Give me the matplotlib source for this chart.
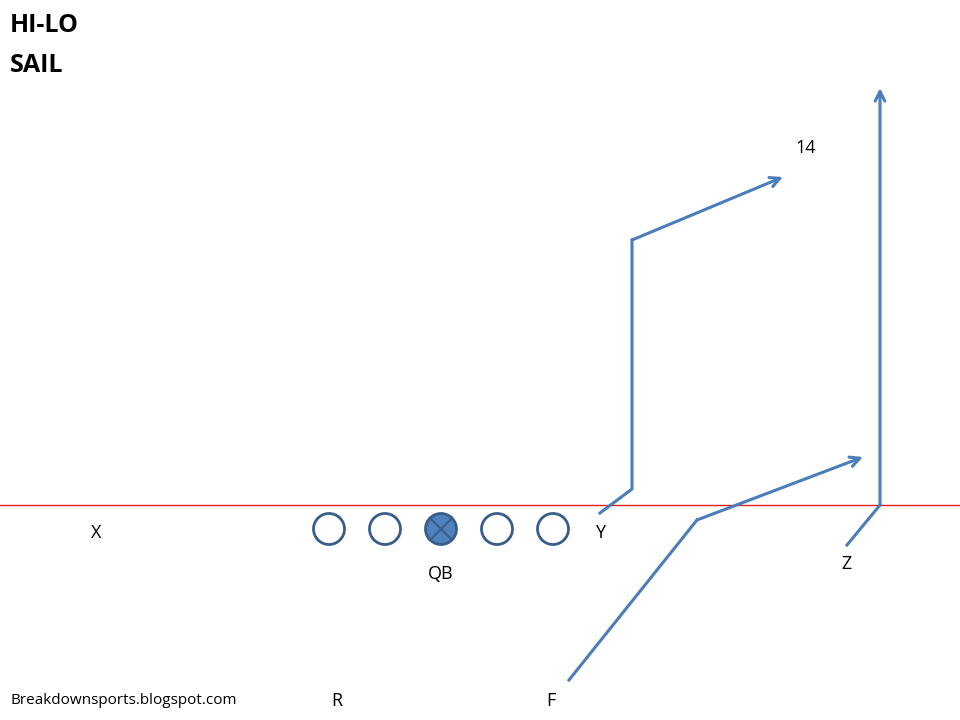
import matplotlib
matplotlib.use("Agg")
import matplotlib.pyplot as plt
from matplotlib.patches import Circle

# Play data (diagram coordinates in pixels, y down)
title_lines = ["HI-LO", "SAIL"]
linemen_x = [329, 385, 497, 553]
line_y = 529
qb_xy = (441, 529)
labels = [("X", 96, 533), ("Y", 600, 533), ("QB", 441, 574), ("Z", 847, 564),
          ("R", 337, 701), ("F", 551, 701), ("14", 806, 148)]
route_y = [(600, 513), (632, 489), (632, 240), (783, 177)]
route_z = [(847, 545), (880, 505), (880, 88)]
route_f = [(569, 680), (697, 520), (863, 457)]
scrimmage_y = 505
footer = "Breakdownsports.blogspot.com"

blue = "#4A7EBB"
dark = "#385D8A"

fig = plt.figure(figsize=(9.6, 7.2), dpi=100)
ax = fig.add_axes([0, 0, 1, 1])
ax.set_xlim(0, 960)
ax.set_ylim(720, 0)
ax.axis("off")

ax.axhline(scrimmage_y, color="#E0201B", lw=1)

for x in linemen_x:
    ax.add_patch(Circle((x, line_y), 15.5, facecolor="white", edgecolor=dark, lw=2))
ax.add_patch(Circle(qb_xy, 15.5, facecolor="#4F81BD", edgecolor=dark, lw=2))
d = 11
ax.plot([qb_xy[0]-d, qb_xy[0]+d], [qb_xy[1]-d, qb_xy[1]+d], color=dark, lw=1.5)
ax.plot([qb_xy[0]-d, qb_xy[0]+d], [qb_xy[1]+d, qb_xy[1]-d], color=dark, lw=1.5)

for route in (route_y, route_z, route_f):
    xs = [p[0] for p in route]
    ys = [p[1] for p in route]
    ax.plot(xs[:-1], ys[:-1], color=blue, lw=2.2, solid_joinstyle="miter")
    ax.annotate("", xy=route[-1], xytext=route[-2],
                arrowprops=dict(arrowstyle="->,head_length=0.7,head_width=0.35",
                                color=blue, lw=2.2, shrinkA=0, shrinkB=0))

for t, x, y in labels:
    ax.text(x, y, t, ha="center", va="center", fontsize=13, family="Open Sans")

for i, t in enumerate(title_lines):
    ax.text(10, 26 + 40 * i, t, ha="left", va="center", fontsize=18,
            fontweight="bold", family="Open Sans")

ax.text(10, 701, footer, ha="left", va="center", fontsize=11, family="Open Sans")

fig.savefig("out.png", dpi=100)
